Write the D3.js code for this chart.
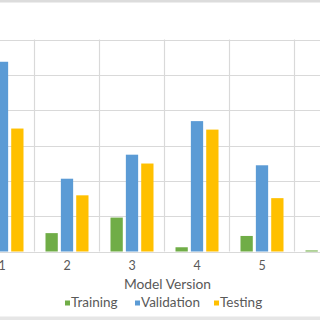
<!DOCTYPE html>
<html><head><meta charset="utf-8">
<script src="https://d3js.org/d3.v7.min.js"></script>
<style>html,body{margin:0;padding:0;background:#fff;overflow:hidden}</style>
</head><body>
<script>
const categories = ["1","2","3","4","5","6"];
const seriesNames = ["Training","Validation","Testing"];
const training   = [0.2, 0.52, 0.96, 0.12, 0.44, 0.03];
const validation = [5.37, 2.06, 2.74, 3.69, 2.44, 1.0];
const testing    = [3.48, 1.59, 2.49, 3.45, 1.51, 0.8];
const yTicks = [0,1,2,3,4,5,6];
const visibleTickLabels = ["1","2","3","4","5"];
const colors = ["#70AD47","#5B9BD5","#FFC000"];

const W=320,H=320;
const svg=d3.select("body").append("svg").attr("width",W).attr("height",H);
const font="Lato, 'Liberation Sans', sans-serif";
const textCol="#595959", gridCol="#d9d9d9";

// frame remnants
svg.append("rect").attr("x",0).attr("y",0).attr("width",W).attr("height",2.5).attr("fill","#dcdcdc");
svg.append("rect").attr("x",0).attr("y",316.5).attr("width",W).attr("height",3.5).attr("fill","#e6e6e6");

const x=d3.scaleBand().domain(categories).range([-30.5,359.5]);
const y=d3.scaleLinear().domain([0,6]).range([251.5,39.5]);
const xi=d3.scaleBand().domain(seriesNames).range([-21.5,21.5]).paddingInner(0.2);

// horizontal grid
svg.append("g").selectAll("line").data(yTicks).join("line")
  .attr("x1",0).attr("x2",W).attr("y1",d=>Math.round(y(d))+0.5).attr("y2",d=>Math.round(y(d))+0.5)
  .attr("stroke",gridCol).attr("stroke-width",1.2);
// vertical grid (category boundaries)
svg.append("g").selectAll("line").data(categories.slice(1)).join("line")
  .attr("x1",d=>x(d)).attr("x2",d=>x(d)).attr("y1",y(6)).attr("y2",y(0))
  .attr("stroke",gridCol).attr("stroke-width",1.2);

const series=[training,validation,testing];
series.forEach((vals,si)=>{
  svg.append("g").selectAll("rect").data(vals).join("rect")
    .attr("x",(d,i)=>x(categories[i])+x.bandwidth()/2+xi(seriesNames[si]))
    .attr("width",xi.bandwidth())
    .attr("y",d=>y(d)).attr("height",d=>y(0)-y(d))
    .attr("fill",colors[si]);
});

// x axis labels
const xAxis=d3.axisBottom(x).tickValues(visibleTickLabels).tickSize(0).tickPadding(0);
const gx=svg.append("g").attr("transform",`translate(0,${y(0)})`).call(xAxis);
gx.select(".domain").remove();
gx.selectAll("text").attr("font-family",font).attr("font-size",12.5).attr("fill",textCol).attr("dy","1.5em");

svg.append("text").attr("x",167.5).attr("y",288.5).attr("text-anchor","middle")
  .attr("font-family",font).attr("font-size",13.8).attr("fill",textCol).text("Model Version");

// legend
const legendX=[65,135,214];
seriesNames.forEach((n,i)=>{
  svg.append("rect").attr("x",legendX[i]).attr("y",300.5).attr("width",5).attr("height",5).attr("fill",colors[i]);
  svg.append("text").attr("x",legendX[i]+6).attr("y",306.5).attr("font-family",font).attr("font-size",13.5)
    .attr("fill",textCol).text(n);
});
</script>
</body></html>
